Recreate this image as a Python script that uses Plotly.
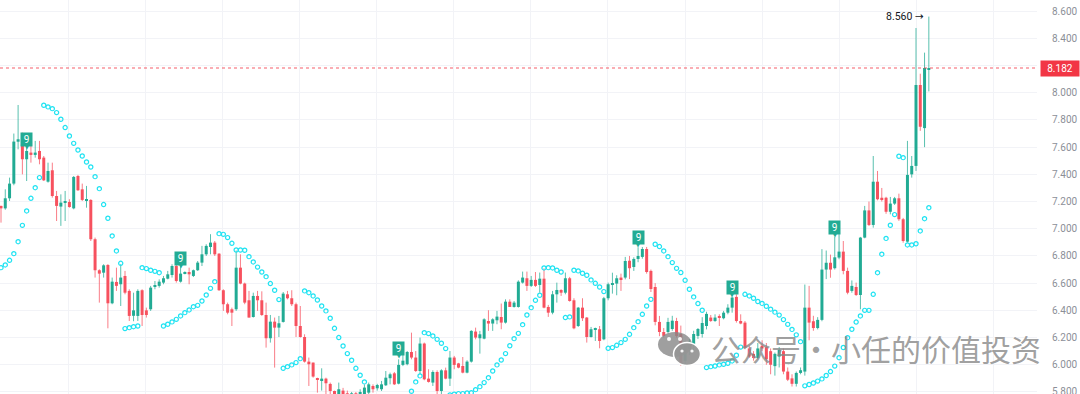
import plotly.graph_objects as go

# ---------------- data ----------------
opens = [7.168, 7.150, 7.224, 7.332, 7.640, 7.621, 7.511, 7.560, 7.543, 7.572,
         7.523, 7.346, 7.430, 7.241, 7.163, 7.190, 7.197, 7.150, 7.388, 7.290,
         7.205, 7.212, 6.923, 6.695, 6.677, 6.734, 6.452, 6.609, 6.592, 6.653,
         6.543, 6.360, 6.359, 6.548, 6.400, 6.408, 6.575, 6.580, 6.604, 6.633,
         6.660, 6.726, 6.611, 6.670, 6.682, 6.653, 6.695, 6.751, 6.812, 6.866,
         6.898, 6.817, 6.548, 6.445, 6.408, 6.408, 6.714, 6.597, 6.474, 6.351,
         6.506, 6.474, 6.366, 6.195, 6.317, 6.273, 6.315, 6.518, 6.489, 6.445,
         6.285, 6.204, 6.023, 6.016, 5.901, 5.886, 5.898, 5.859, 5.807, 5.785,
         5.810, 5.790, 5.770, 5.790, 5.770, 5.780, 5.795, 5.844, 5.827, 5.820,
         5.849, 5.901, 5.937, 5.861, 5.999, 6.004, 6.094, 6.053, 5.954, 6.156,
         5.898, 5.869, 5.947, 5.807, 5.959, 5.898, 6.053, 6.010, 5.991, 5.942,
         6.023, 6.244, 6.195, 6.192, 6.322, 6.303, 6.327, 6.351, 6.310, 6.464,
         6.425, 6.425, 6.604, 6.636, 6.580, 6.624, 6.587, 6.633, 6.425, 6.383,
         6.518, 6.550, 6.530, 6.636, 6.474, 6.285, 6.420, 6.347, 6.204, 6.256,
         6.261, 6.187, 6.489, 6.592, 6.597, 6.641, 6.641, 6.765, 6.719, 6.778,
         6.793, 6.851, 6.690, 6.572, 6.315, 6.241, 6.241, 6.263, 6.322, 6.226,
         6.028, 6.116, 6.153, 6.212, 6.226, 6.285, 6.347, 6.322, 6.352, 6.342,
         6.383, 6.420, 6.499, 6.322, 6.310, 6.120, 6.080, 6.050, 6.140, 6.130,
         6.100, 5.990, 6.060, 6.100, 5.950, 5.900, 5.860, 5.940, 5.950, 6.420,
         6.320, 6.270, 6.330, 6.700, 6.750, 6.710, 6.788, 6.832, 6.690, 6.543,
         6.572, 6.513, 6.935, 7.135, 7.028, 7.346, 7.228, 7.228, 7.125, 7.185,
         7.224, 7.070, 6.905, 7.400, 7.462, 8.057, 7.740, 8.170]
highs = [7.170, 7.290, 7.376, 7.700, 7.910, 7.707, 7.646, 7.609, 7.646, 7.646,
         7.535, 7.486, 7.486, 7.278, 7.253, 7.278, 7.217, 7.388, 7.396, 7.332,
         7.315, 7.217, 6.935, 6.702, 6.739, 6.739, 6.641, 6.714, 6.739, 6.690,
         6.555, 6.530, 6.555, 6.555, 6.420, 6.580, 6.616, 6.628, 6.653, 6.690,
         6.739, 6.739, 6.726, 6.687, 6.714, 6.700, 6.763, 6.874, 6.886, 6.960,
         6.910, 6.820, 6.555, 6.457, 6.420, 6.840, 6.812, 6.604, 6.543, 6.530,
         6.543, 6.540, 6.457, 6.366, 6.347, 6.359, 6.535, 6.543, 6.548, 6.457,
         6.432, 6.224, 6.053, 6.016, 5.905, 5.974, 5.905, 5.869, 5.810, 5.869,
         5.830, 5.810, 5.800, 5.800, 5.820, 5.856, 5.869, 5.856, 5.860, 5.881,
         5.954, 5.942, 5.947, 6.040, 6.080, 6.101, 6.236, 6.101, 6.200, 6.163,
         5.967, 5.959, 5.959, 5.967, 5.979, 6.101, 6.065, 6.014, 6.057, 6.033,
         6.254, 6.273, 6.249, 6.342, 6.401, 6.342, 6.396, 6.450, 6.481, 6.481,
         6.469, 6.621, 6.685, 6.685, 6.653, 6.682, 6.678, 6.709, 6.440, 6.543,
         6.604, 6.555, 6.678, 6.646, 6.489, 6.425, 6.489, 6.351, 6.278, 6.273,
         6.285, 6.499, 6.604, 6.677, 6.658, 6.670, 6.793, 6.800, 6.790, 6.864,
         6.866, 6.866, 6.700, 6.600, 6.359, 6.270, 6.345, 6.360, 6.345, 6.288,
         6.168, 6.190, 6.250, 6.270, 6.350, 6.390, 6.366, 6.371, 6.371, 6.396,
         6.445, 6.499, 6.518, 6.371, 6.322, 6.140, 6.100, 6.160, 6.180, 6.160,
         6.120, 6.090, 6.130, 6.120, 5.980, 5.930, 5.950, 5.980, 6.590, 6.580,
         6.360, 6.350, 6.850, 6.840, 6.810, 6.940, 6.960, 6.910, 6.714, 6.620,
         6.604, 6.940, 7.168, 7.200, 7.535, 7.425, 7.300, 7.235, 7.234, 7.234,
         7.258, 7.080, 7.646, 7.535, 8.476, 8.140, 8.295, 8.560]
lows = [7.045, 7.140, 7.204, 7.320, 7.584, 7.400, 7.351, 7.486, 7.523, 7.474,
        7.351, 7.339, 7.229, 7.057, 7.021, 7.057, 7.155, 7.143, 7.278, 7.204,
        7.155, 6.910, 6.641, 6.457, 6.641, 6.268, 6.445, 6.543, 6.432, 6.518,
        6.322, 6.320, 6.322, 6.285, 6.347, 6.396, 6.555, 6.567, 6.592, 6.628,
        6.641, 6.604, 6.604, 6.665, 6.592, 6.645, 6.690, 6.726, 6.800, 6.812,
        6.800, 6.543, 6.396, 6.371, 6.285, 6.396, 6.592, 6.445, 6.347, 6.347,
        6.396, 6.359, 6.126, 6.163, 5.979, 6.204, 6.310, 6.481, 6.432, 6.204,
        6.200, 6.016, 5.844, 5.905, 5.795, 5.810, 5.783, 5.783, 5.770, 5.770,
        5.770, 5.750, 5.750, 5.740, 5.750, 5.770, 5.783, 5.795, 5.810, 5.807,
        5.844, 5.856, 5.851, 5.856, 5.990, 5.996, 6.040, 5.947, 5.930, 5.886,
        5.869, 5.844, 5.778, 5.778, 5.893, 5.844, 5.967, 5.974, 5.937, 5.937,
        6.016, 6.187, 6.082, 6.187, 6.249, 6.249, 6.298, 6.261, 6.303, 6.425,
        6.420, 6.420, 6.597, 6.543, 6.572, 6.572, 6.530, 6.415, 6.352, 6.371,
        6.457, 6.506, 6.518, 6.464, 6.261, 6.278, 6.322, 6.163, 6.200, 6.175,
        6.121, 6.180, 6.474, 6.523, 6.511, 6.543, 6.628, 6.630, 6.690, 6.754,
        6.780, 6.670, 6.535, 6.290, 6.210, 6.200, 6.230, 6.250, 6.200, 5.993,
        5.993, 6.070, 6.100, 6.190, 6.200, 6.260, 6.315, 6.315, 6.285, 6.334,
        6.371, 6.383, 6.310, 6.298, 6.114, 6.050, 6.030, 6.040, 6.100, 6.000,
        5.930, 5.920, 5.980, 5.930, 5.880, 5.840, 5.840, 5.930, 5.920, 6.180,
        6.250, 6.260, 6.320, 6.630, 6.640, 6.700, 6.776, 6.665, 6.518, 6.530,
        6.506, 6.408, 6.930, 7.020, 7.008, 7.209, 7.200, 7.110, 7.106, 7.175,
        7.058, 6.898, 6.898, 7.376, 7.425, 7.720, 7.600, 8.010]
closes = [7.150, 7.224, 7.332, 7.641, 7.658, 7.511, 7.572, 7.543, 7.560, 7.511,
          7.356, 7.425, 7.241, 7.168, 7.192, 7.197, 7.160, 7.381, 7.283, 7.212,
          7.212, 6.923, 6.695, 6.670, 6.731, 6.452, 6.611, 6.580, 6.641, 6.530,
          6.359, 6.400, 6.543, 6.366, 6.366, 6.567, 6.585, 6.611, 6.636, 6.665,
          6.726, 6.616, 6.670, 6.677, 6.665, 6.695, 6.751, 6.812, 6.874, 6.898,
          6.812, 6.548, 6.445, 6.383, 6.383, 6.714, 6.597, 6.457, 6.347, 6.506,
          6.474, 6.366, 6.195, 6.317, 6.273, 6.305, 6.523, 6.489, 6.445, 6.285,
          6.204, 6.023, 6.004, 5.913, 5.891, 5.898, 5.864, 5.807, 5.785, 5.820,
          5.785, 5.770, 5.790, 5.770, 5.800, 5.832, 5.856, 5.820, 5.851, 5.856,
          5.905, 5.930, 5.856, 5.999, 6.030, 6.094, 6.053, 5.954, 6.156, 5.893,
          5.874, 5.947, 5.807, 5.959, 5.898, 6.053, 5.999, 5.979, 5.942, 6.023,
          6.249, 6.200, 6.224, 6.334, 6.303, 6.334, 6.354, 6.310, 6.464, 6.425,
          6.457, 6.611, 6.641, 6.580, 6.624, 6.580, 6.633, 6.420, 6.383, 6.518,
          6.550, 6.530, 6.636, 6.469, 6.268, 6.420, 6.342, 6.204, 6.261, 6.261,
          6.175, 6.489, 6.592, 6.597, 6.636, 6.628, 6.763, 6.710, 6.778, 6.800,
          6.851, 6.682, 6.557, 6.315, 6.241, 6.212, 6.315, 6.324, 6.212, 6.013,
          6.138, 6.168, 6.226, 6.263, 6.307, 6.374, 6.322, 6.347, 6.347, 6.383,
          6.420, 6.494, 6.322, 6.303, 6.126, 6.060, 6.050, 6.120, 6.120, 6.040,
          6.000, 6.080, 6.110, 5.950, 5.890, 5.860, 5.940, 5.960, 6.420, 6.310,
          6.270, 6.330, 6.700, 6.750, 6.700, 6.790, 6.832, 6.690, 6.530, 6.580,
          6.513, 6.935, 7.135, 7.028, 7.346, 7.217, 7.216, 7.125, 7.185, 7.224,
          7.070, 6.910, 7.396, 7.462, 8.057, 7.750, 8.182, 8.182]

N = None
sar = [6.714, 6.734, 6.768, 6.817, 6.905, 7.025, 7.131, 7.224, 7.302, 7.376,
       7.908, 7.896, 7.883, 7.854, 7.805, 7.744, 7.682, 7.628, 7.579, 7.535,
       7.491, 7.454, 7.383, 7.295, 7.178, 7.077, 6.947, 6.837, 6.746, 6.266,
       6.273, 6.280, 6.285, 6.714, 6.707, 6.695, 6.687, 6.677, 6.285, 6.298,
       6.315, 6.334, 6.359, 6.383, 6.403, 6.427, 6.437, 6.469, 6.513, 6.562,
       6.611, 6.964, 6.959, 6.935, 6.893, 6.844, 6.844, 6.842, 6.795, 6.756,
       6.718, 6.682, 6.648, 6.597, 6.548, 6.479, 5.974, 5.986, 5.999, 6.016,
       6.045, 6.543, 6.530, 6.506, 6.476, 6.432, 6.396, 6.342, 6.268, 6.200,
       6.138, 6.082, 6.033, 5.974, 5.923, 5.874, N, N, N, N,
       N, N, N, N, N, N, 5.805, 5.874, 5.918, 6.236,
       6.229, 6.212, 6.187, 6.158, 6.119, 5.778, 5.783, 5.788, 5.788, 5.793,
       5.795, 5.817, 5.839, 5.869, 5.905, 5.954, 5.999, 6.035, 6.082, 6.140,
       6.192, 6.231, 6.295, 6.366, 6.420, 6.474, 6.511, 6.712, 6.714, 6.712,
       6.695, 6.682, 6.347, 6.352, 6.695, 6.690, 6.673, 6.658, 6.624, 6.599,
       6.572, 6.538, 6.121, 6.126, 6.143, 6.163, 6.187, 6.224, 6.273, 6.317,
       6.371, 6.432, 6.481, 6.886, 6.869, 6.837, 6.795, 6.751, 6.709, 6.678,
       6.621, 6.555, 6.499, 6.450, 6.401, 5.979, 5.986, 5.991, 5.999, 6.004,
       6.011, 6.028, 6.070, 6.130, 6.518, 6.506, 6.489, 6.465, 6.451, 6.430,
       6.409, 6.387, 6.365, 6.332, 6.297, 6.260, 6.220, 6.170, 5.845, 5.855,
       5.866, 5.880, 5.896, 5.921, 5.950, 5.990, 6.052, 6.127, 6.199, 6.261,
       6.314, 6.359, 6.400, 6.400, 6.518, 6.677, 6.813, 6.929, 7.026, 7.104,
       7.533, 7.523, 6.881, 6.881, 6.890, 6.984, 7.074, 7.155]

label_idx = [6, 42, 93, 149, 171, 195]
label_price = [7.654, 6.778, 6.118, 6.935, 6.570, 7.011]
label_text = "9"

tick_vals = [5.8, 6.0, 6.2, 6.4, 6.6, 6.8, 7.0, 7.2, 7.4, 7.6, 7.8, 8.0, 8.2, 8.4, 8.6]
# the 8.200 label is hidden behind the last-price tag in the reference
tick_text = ["5.800", "6.000", "6.200", "6.400", "6.600", "6.800", "7.000", "7.200",
             "7.400", "7.600", "7.800", "8.000", "", "8.400", "8.600"]
last_price = 8.182
last_idx = 217
last_high = 8.560
watermark = "公众号・小任的价值投资"

# ---------------- styling ----------------
UP = "#22ab94"
DOWN = "#f7525f"
UP_WICK = "rgba(34,171,148,0.75)"
DOWN_WICK = "rgba(247,82,95,0.75)"
GRID = "#f2f3f7"
SAR_COLOR = "#1fe3f2"
PLOT_W = 1037

idx = list(range(len(opens)))
fig = go.Figure()

# wicks
for up, col in ((True, UP_WICK), (False, DOWN_WICK)):
    xs, ys = [], []
    for i in idx:
        if (closes[i] >= opens[i]) == up:
            xs += [i, i, None]
            ys += [lows[i], highs[i], None]
    fig.add_trace(go.Scatter(x=xs, y=ys, mode="lines", line=dict(color=col, width=1),
                             hoverinfo="skip", showlegend=False))

# bodies
for up, col in ((True, UP), (False, DOWN)):
    sel = [i for i in idx if (closes[i] >= opens[i]) == up]
    base = [min(opens[i], closes[i]) for i in sel]
    hgt = [max(abs(closes[i] - opens[i]), 0.007) for i in sel]
    fig.add_trace(go.Bar(x=sel, y=hgt, base=base, width=0.7,
                         marker=dict(color=col, line=dict(width=0)),
                         hoverinfo="skip", showlegend=False))

# parabolic SAR
fig.add_trace(go.Scatter(x=idx, y=sar, mode="markers",
                         marker=dict(symbol="circle-open", size=4.2, color=SAR_COLOR,
                                     line=dict(width=1.2, color=SAR_COLOR)),
                         hoverinfo="skip", showlegend=False))

annotations = []
for i, p in zip(label_idx, label_price):
    annotations.append(dict(x=i, y=p, xref="x", yref="y", text=label_text, showarrow=False,
                            bgcolor=UP, font=dict(family="Roboto", size=10, color="white"),
                            width=9, height=11, borderpad=1, align="center"))
    annotations.append(dict(x=i, y=p, xref="x", yref="y", text="▼", showarrow=False,
                            yshift=-7.5, font=dict(family="DejaVu Sans", size=5, color=UP)))

# last price label on the axis
annotations.append(dict(x=1, y=last_price, xref="paper", yref="y", xanchor="left", xshift=3,
                        text=f"{last_price:.3f}", showarrow=False, bgcolor="#f23645",
                        font=dict(family="Roboto", size=10, color="white"),
                        width=36, height=13, borderpad=1, align="center"))
# high marker text
annotations.append(dict(x=last_idx, y=last_high, xref="x", yref="y", xanchor="right", xshift=-3,
                        text=f"{last_high:.3f} →", showarrow=False,
                        font=dict(family="Roboto, DejaVu Sans", size=10.5, color="#131722")))
# watermark
annotations.append(dict(x=709 / PLOT_W, y=1 - 348 / 394, xref="paper", yref="paper",
                        xanchor="left", yanchor="middle", text=watermark, showarrow=False,
                        font=dict(family="Noto Sans CJK SC", size=30, color="rgba(135,135,135,0.8)")))

shapes = [
    dict(type="line", xref="paper", x0=0, x1=1, yref="y", y0=last_price, y1=last_price,
         line=dict(color="rgba(242,54,69,0.8)", width=1, dash="3px,3px"), layer="above"),
]
# WeChat-like icon of the watermark
ICON = "rgba(135,135,135,0.8)"
shapes.append(dict(type="circle", xref="paper", yref="paper", xsizemode="pixel", ysizemode="pixel",
                   xanchor=675 / PLOT_W, yanchor=1 - 344.5 / 394, x0=-17, x1=17, y0=-12.5, y1=12.5,
                   fillcolor=ICON, line=dict(width=0), layer="above"))
shapes.append(dict(type="circle", xref="paper", yref="paper", xsizemode="pixel", ysizemode="pixel",
                   xanchor=687 / PLOT_W, yanchor=1 - 354 / 394, x0=-13.5, x1=13.5, y0=-11.5, y1=11.5,
                   fillcolor="rgba(150,150,150,0.95)", line=dict(width=1.5, color="white"), layer="above"))
for ex, ey, r in ((669, 339, 2), (680, 339, 2), (682, 351, 1.6), (692, 351, 1.6)):
    shapes.append(dict(type="circle", xref="paper", yref="paper", xsizemode="pixel", ysizemode="pixel",
                       xanchor=ex / PLOT_W, yanchor=1 - ey / 394, x0=-r, x1=r, y0=-r, y1=r,
                       fillcolor="rgba(255,255,255,0.9)", line=dict(width=0), layer="above"))

fig.update_layout(
    width=1080, height=394,
    margin=dict(l=0, r=1080 - PLOT_W, t=0, b=0, autoexpand=False),
    paper_bgcolor="white", plot_bgcolor="white",
    barmode="overlay", showlegend=False,
    xaxis=dict(range=[-0.234, 242.3], showticklabels=False, showgrid=True, gridcolor=GRID,
               gridwidth=1, tickmode="linear", tick0=15.67, dtick=18.04, zeroline=False,
               showline=False, ticks="", fixedrange=True),
    yaxis=dict(side="right", range=[5.785, 8.682], tickmode="array", tickvals=tick_vals,
               ticktext=tick_text, showgrid=True, gridcolor=GRID, gridwidth=1, zeroline=False,
               showline=False, ticks="", ticklabelstandoff=14, ticklabeloverflow="allow",
               tickfont=dict(family="Roboto", size=10, color="#8c8f98"), fixedrange=True),
    annotations=annotations,
    shapes=shapes,
)

fig.write_html("out.html", config={"displayModeBar": False},
               post_script="document.body.style.margin='0';document.body.style.overflow='hidden';")
